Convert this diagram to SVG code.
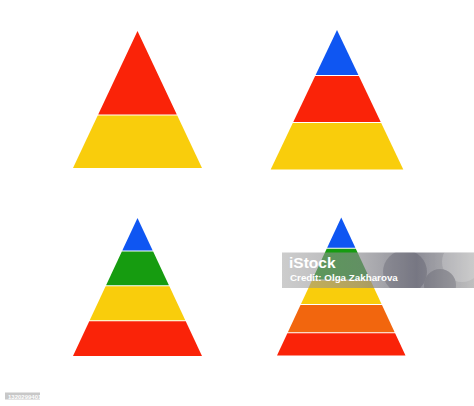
<svg xmlns="http://www.w3.org/2000/svg" width="474" height="406" viewBox="0 0 474 406">
<defs>
<style>
.red{fill:#FA2308}
.yel{fill:#F9CD0C}
.blu{fill:#0F56F2}
.grn{fill:#169C10}
.org{fill:#F2660E}
.wm{font-family:"Liberation Sans",Arial,sans-serif;font-weight:bold;fill:#ffffff}
</style>
<linearGradient id="bg" x1="0" y1="0" x2="1" y2="0">
<stop offset="0" stop-color="#9a9a9a" stop-opacity="0.5"/>
<stop offset="0.4" stop-color="#8a8a8f" stop-opacity="0.65"/>
<stop offset="0.7" stop-color="#70707c" stop-opacity="0.8"/>
<stop offset="1" stop-color="#b0b0b0" stop-opacity="0.8"/>
</linearGradient>
<clipPath id="bc"><rect x="282" y="252.5" width="192" height="35.5"/></clipPath>
</defs>
<rect width="474" height="406" fill="#ffffff"/>

<g id="pyramid1">
<polygon class="red" points="137.5,31 176.81,114.5 98.19,114.5"/>
<polygon class="yel" points="97.72,115.5 177.28,115.5 202,168 73,168"/>
</g>

<g id="pyramid2">
<polygon class="blu" points="337,30 358.4,75 315.6,75"/>
<polygon class="red" points="315.14,76 358.86,76 380.73,122 293.27,122"/>
<polygon class="yel" points="292.8,123 381.2,123 403.3,169.5 270.7,169.5"/>
</g>

<g id="pyramid3">
<polygon class="blu" points="137.5,218 152.69,250.5 122.31,250.5"/>
<polygon class="grn" points="121.84,251.5 153.16,251.5 168.91,285.2 106.09,285.2"/>
<polygon class="yel" points="105.62,286.2 169.38,286.2 185.27,320.2 89.73,320.2"/>
<polygon class="red" points="89.26,321.2 185.74,321.2 202,356 73,356"/>
</g>

<g id="pyramid4">
<polygon class="blu" points="341.25,217.5 355.36,247.8 327.14,247.8"/>
<polygon class="grn" points="326.68,248.8 355.82,248.8 370.12,279.5 312.38,279.5"/>
<polygon class="yel" points="311.92,280.5 370.58,280.5 381.52,304 300.98,304"/>
<polygon class="org" points="300.51,305 381.99,305 394.65,332.2 287.85,332.2"/>
<polygon class="red" points="287.38,333.2 395.12,333.2 405.5,355.5 277,355.5"/>
</g>

<g id="watermark">
<rect x="282" y="252.5" width="192" height="35.5" fill="url(#bg)"/>
<g clip-path="url(#bc)" opacity="0.18">
<circle cx="405" cy="272" r="22" fill="#1a1a30"/>
<circle cx="462" cy="262" r="20" fill="#ffffff"/>
<circle cx="440" cy="285" r="16" fill="#202030"/>
</g>
<text class="wm" x="289" y="268" font-size="15.5">iStock</text>
<text class="wm" x="290" y="280.5" font-size="9.8">Credit: Olga Zakharova</text>
<rect x="5" y="392.5" width="35" height="7" fill="#c8c8c8"/>
<text class="wm" x="8" y="398.5" font-size="6" font-weight="normal">1320299401</text>
</g>
</svg>
